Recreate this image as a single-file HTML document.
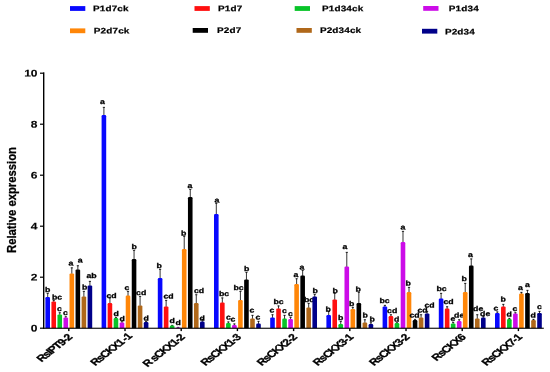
<!DOCTYPE html><html><head><meta charset="utf-8"><title>chart</title><style>html,body{margin:0;padding:0;background:#fff}svg{display:block;filter:blur(0.35px)}</style></head><body><svg width="550" height="372" viewBox="0 0 550 372" font-family="Liberation Sans, Arial, sans-serif" font-weight="bold">
<rect width="550" height="372" fill="#fff"/>
<rect x="70" y="6.1" width="15.3" height="4.8" fill="#0808ff"/>
<text transform="translate(93.00,11.30) scale(1.23,1) rotate(0.05)" font-size="8.1" letter-spacing="0.12" stroke="#000" stroke-width="0.2">P1d7ck</text>
<rect x="70" y="28.4" width="15.3" height="4.8" fill="#ff8608"/>
<text transform="translate(93.80,33.50) scale(1.23,1) rotate(0.05)" font-size="8.1" letter-spacing="0.12" stroke="#000" stroke-width="0.2">P2d7ck</text>
<rect x="194.5" y="6.1" width="15.3" height="4.8" fill="#ff1010"/>
<text transform="translate(218.00,11.30) scale(1.23,1) rotate(0.05)" font-size="8.1" letter-spacing="0.12" stroke="#000" stroke-width="0.2">P1d7</text>
<rect x="192.7" y="28" width="15.3" height="4.8" fill="#000000"/>
<text transform="translate(217.00,33.00) scale(1.23,1) rotate(0.05)" font-size="8.1" letter-spacing="0.12" stroke="#000" stroke-width="0.2">P2d7</text>
<rect x="294.7" y="6.1" width="15.3" height="4.8" fill="#08c428"/>
<text transform="translate(322.00,11.30) scale(1.23,1) rotate(0.05)" font-size="8.1" letter-spacing="0.12" stroke="#000" stroke-width="0.2">P1d34ck</text>
<rect x="296.5" y="28" width="15.3" height="4.8" fill="#b0681a"/>
<text transform="translate(319.90,33.00) scale(1.23,1) rotate(0.05)" font-size="8.1" letter-spacing="0.12" stroke="#000" stroke-width="0.2">P2d34ck</text>
<rect x="423.2" y="6" width="15.3" height="4.8" fill="#cc0ce8"/>
<text transform="translate(448.80,11.30) scale(1.23,1) rotate(0.05)" font-size="8.1" letter-spacing="0.12" stroke="#000" stroke-width="0.2">P1d34</text>
<rect x="422" y="28.8" width="15.3" height="4.8" fill="#00008a"/>
<text transform="translate(444.90,34.50) scale(1.23,1) rotate(0.05)" font-size="8.1" letter-spacing="0.12" stroke="#000" stroke-width="0.2">P2d34</text>
<path d="M47.70 297.5 V293 M46.60 293.35 H48.80" stroke="#111" stroke-width="0.85" fill="none"/>
<path d="M45.40 328.2 V298.20 Q45.40 297 46.60 297 H48.80 Q50.00 297 50.00 298.20 V328.2 Z" fill="#0808ff"/>
<text transform="translate(44.90,292) scale(1.25,1) rotate(0.05)" font-size="7" stroke="#000" stroke-width="0.28">b</text>
<path d="M53.73 301.9 V300 M52.63 300.35 H54.83" stroke="#111" stroke-width="0.85" fill="none"/>
<path d="M51.43 328.2 V302.60 Q51.43 301.4 52.63 301.4 H54.83 Q56.03 301.4 56.03 302.60 V328.2 Z" fill="#ff1010"/>
<text transform="translate(51.90,299.4) scale(1.25,1) rotate(0.05)" font-size="7" stroke="#000" stroke-width="0.28">bc</text>
<path d="M59.76 314.9 V312.4 M58.66 312.75 H60.86" stroke="#111" stroke-width="0.85" fill="none"/>
<path d="M57.46 328.2 V315.60 Q57.46 314.4 58.66 314.4 H60.86 Q62.06 314.4 62.06 315.60 V328.2 Z" fill="#08c428"/>
<text transform="translate(57.10,311) scale(1.25,1) rotate(0.05)" font-size="7" stroke="#000" stroke-width="0.28">c</text>
<path d="M65.79 317.9 V316.4 M64.69 316.75 H66.89" stroke="#111" stroke-width="0.85" fill="none"/>
<path d="M63.49 328.2 V318.60 Q63.49 317.4 64.69 317.4 H66.89 Q68.09 317.4 68.09 318.60 V328.2 Z" fill="#cc0ce8"/>
<text transform="translate(63.10,315) scale(1.25,1) rotate(0.05)" font-size="7" stroke="#000" stroke-width="0.28">c</text>
<path d="M71.82 273.9 V267.5 M70.72 267.85 H72.92" stroke="#111" stroke-width="0.85" fill="none"/>
<path d="M69.52 328.2 V274.60 Q69.52 273.4 70.72 273.4 H72.92 Q74.12 273.4 74.12 274.60 V328.2 Z" fill="#ff8608"/>
<text transform="translate(68.50,265.4) scale(1.25,1) rotate(0.05)" font-size="7" stroke="#000" stroke-width="0.28">a</text>
<path d="M77.85 269.9 V265.4 M76.75 265.75 H78.95" stroke="#111" stroke-width="0.85" fill="none"/>
<path d="M75.55 328.2 V270.60 Q75.55 269.4 76.75 269.4 H78.95 Q80.15 269.4 80.15 270.60 V328.2 Z" fill="#000000"/>
<text transform="translate(77.70,262.6) scale(1.25,1) rotate(0.05)" font-size="7" stroke="#000" stroke-width="0.28">a</text>
<path d="M83.88 296.9 V291 M82.78 291.35 H84.98" stroke="#111" stroke-width="0.85" fill="none"/>
<path d="M81.58 328.2 V297.60 Q81.58 296.4 82.78 296.4 H84.98 Q86.18 296.4 86.18 297.60 V328.2 Z" fill="#b0681a"/>
<text transform="translate(82.10,289.4) scale(1.25,1) rotate(0.05)" font-size="7" stroke="#000" stroke-width="0.28">b</text>
<path d="M89.91 285.9 V281 M88.81 281.35 H91.01" stroke="#111" stroke-width="0.85" fill="none"/>
<path d="M87.61 328.2 V286.60 Q87.61 285.4 88.81 285.4 H91.01 Q92.21 285.4 92.21 286.60 V328.2 Z" fill="#00008a"/>
<text transform="translate(86.50,278) scale(1.25,1) rotate(0.05)" font-size="7" stroke="#000" stroke-width="0.28">ab</text>
<path d="M103.90 115.5 V107 M102.80 107.35 H105.00" stroke="#111" stroke-width="0.85" fill="none"/>
<path d="M101.60 328.2 V116.20 Q101.60 115 102.80 115 H105.00 Q106.20 115 106.20 116.20 V328.2 Z" fill="#0808ff"/>
<text transform="translate(100.10,104) scale(1.25,1) rotate(0.05)" font-size="7" stroke="#000" stroke-width="0.28">a</text>
<path d="M109.93 303.5 V297.6 M108.83 297.95000000000005 H111.03" stroke="#111" stroke-width="0.85" fill="none"/>
<path d="M107.63 328.2 V304.20 Q107.63 303 108.83 303 H111.03 Q112.23 303 112.23 304.20 V328.2 Z" fill="#ff1010"/>
<text transform="translate(106.50,298) scale(1.25,1) rotate(0.05)" font-size="7" stroke="#000" stroke-width="0.28">cd</text>
<path d="M115.96 318.5 V317 M114.86 317.35 H117.06" stroke="#111" stroke-width="0.85" fill="none"/>
<path d="M113.66 328.2 V319.20 Q113.66 318 114.86 318 H117.06 Q118.26 318 118.26 319.20 V328.2 Z" fill="#08c428"/>
<text transform="translate(113.50,316) scale(1.25,1) rotate(0.05)" font-size="7" stroke="#000" stroke-width="0.28">d</text>
<path d="M121.99 322.9 V321.4 M120.89 321.75 H123.09" stroke="#111" stroke-width="0.85" fill="none"/>
<path d="M119.69 328.2 V323.60 Q119.69 322.4 120.89 322.4 H123.09 Q124.29 322.4 124.29 323.60 V328.2 Z" fill="#cc0ce8"/>
<text transform="translate(119.50,321) scale(1.25,1) rotate(0.05)" font-size="7" stroke="#000" stroke-width="0.28">d</text>
<path d="M128.02 296.1 V291 M126.92 291.35 H129.12" stroke="#111" stroke-width="0.85" fill="none"/>
<path d="M125.72 328.2 V296.80 Q125.72 295.6 126.92 295.6 H129.12 Q130.32 295.6 130.32 296.80 V328.2 Z" fill="#ff8608"/>
<text transform="translate(124.50,290) scale(1.25,1) rotate(0.05)" font-size="7" stroke="#000" stroke-width="0.28">c</text>
<path d="M134.05 259.5 V250 M132.95 250.35 H135.15" stroke="#111" stroke-width="0.85" fill="none"/>
<path d="M131.75 328.2 V260.20 Q131.75 259 132.95 259 H135.15 Q136.35 259 136.35 260.20 V328.2 Z" fill="#000000"/>
<text transform="translate(131.50,249) scale(1.25,1) rotate(0.05)" font-size="7" stroke="#000" stroke-width="0.28">b</text>
<path d="M140.08 305.9 V296 M138.98 296.35 H141.18" stroke="#111" stroke-width="0.85" fill="none"/>
<path d="M137.78 328.2 V306.60 Q137.78 305.4 138.98 305.4 H141.18 Q142.38 305.4 142.38 306.60 V328.2 Z" fill="#b0681a"/>
<text transform="translate(136.10,295) scale(1.25,1) rotate(0.05)" font-size="7" stroke="#000" stroke-width="0.28">cd</text>
<path d="M146.11 322.5 V321 M145.01 321.35 H147.21" stroke="#111" stroke-width="0.85" fill="none"/>
<path d="M143.81 328.2 V323.20 Q143.81 322 145.01 322 H147.21 Q148.41 322 148.41 323.20 V328.2 Z" fill="#00008a"/>
<text transform="translate(143.50,320.6) scale(1.25,1) rotate(0.05)" font-size="7" stroke="#000" stroke-width="0.28">d</text>
<path d="M160.10 278.5 V269 M159.00 269.35 H161.20" stroke="#111" stroke-width="0.85" fill="none"/>
<path d="M157.80 328.2 V279.20 Q157.80 278 159.00 278 H161.20 Q162.40 278 162.40 279.20 V328.2 Z" fill="#0808ff"/>
<text transform="translate(156.50,268) scale(1.25,1) rotate(0.05)" font-size="7" stroke="#000" stroke-width="0.28">b</text>
<path d="M166.13 306.9 V300 M165.03 300.35 H167.23" stroke="#111" stroke-width="0.85" fill="none"/>
<path d="M163.83 328.2 V307.60 Q163.83 306.4 165.03 306.4 H167.23 Q168.43 306.4 168.43 307.60 V328.2 Z" fill="#ff1010"/>
<text transform="translate(163.50,298.6) scale(1.25,1) rotate(0.05)" font-size="7" stroke="#000" stroke-width="0.28">cd</text>
<path d="M172.16 326.1 V325 M171.06 325.35 H173.26" stroke="#111" stroke-width="0.85" fill="none"/>
<path d="M169.86 328.2 V326.80 Q169.86 325.6 171.06 325.6 H173.26 Q174.46 325.6 174.46 326.80 V328.2 Z" fill="#08c428"/>
<text transform="translate(169.50,323) scale(1.25,1) rotate(0.05)" font-size="7" stroke="#000" stroke-width="0.28">d</text>
<path d="M178.19 327.9 V327 M177.09 327.35 H179.29" stroke="#111" stroke-width="0.85" fill="none"/>
<path d="M175.89 328.2 V327.80 Q175.89 327.4 176.29 327.4 H180.09 Q180.49 327.4 180.49 327.80 V328.2 Z" fill="#cc0ce8"/>
<text transform="translate(175.50,325) scale(1.25,1) rotate(0.05)" font-size="7" stroke="#000" stroke-width="0.28">d</text>
<path d="M184.22 249.5 V236 M183.12 236.35 H185.32" stroke="#111" stroke-width="0.85" fill="none"/>
<path d="M181.92 328.2 V250.20 Q181.92 249 183.12 249 H185.32 Q186.52 249 186.52 250.20 V328.2 Z" fill="#ff8608"/>
<text transform="translate(180.90,235.6) scale(1.25,1) rotate(0.05)" font-size="7" stroke="#000" stroke-width="0.28">b</text>
<path d="M190.25 197.5 V189 M189.15 189.35 H191.35" stroke="#111" stroke-width="0.85" fill="none"/>
<path d="M187.95 328.2 V198.20 Q187.95 197 189.15 197 H191.35 Q192.55 197 192.55 198.20 V328.2 Z" fill="#000000"/>
<text transform="translate(187.50,188) scale(1.25,1) rotate(0.05)" font-size="7" stroke="#000" stroke-width="0.28">a</text>
<path d="M196.28 303.5 V294.4 M195.18 294.75 H197.38" stroke="#111" stroke-width="0.85" fill="none"/>
<path d="M193.98 328.2 V304.20 Q193.98 303 195.18 303 H197.38 Q198.58 303 198.58 304.20 V328.2 Z" fill="#b0681a"/>
<text transform="translate(193.90,293) scale(1.25,1) rotate(0.05)" font-size="7" stroke="#000" stroke-width="0.28">cd</text>
<path d="M202.31 322.1 V319 M201.21 319.35 H203.41" stroke="#111" stroke-width="0.85" fill="none"/>
<path d="M200.01 328.2 V322.80 Q200.01 321.6 201.21 321.6 H203.41 Q204.61 321.6 204.61 322.80 V328.2 Z" fill="#00008a"/>
<text transform="translate(199.50,320.4) scale(1.25,1) rotate(0.05)" font-size="7" stroke="#000" stroke-width="0.28">d</text>
<path d="M216.30 214.5 V203 M215.20 203.35 H217.40" stroke="#111" stroke-width="0.85" fill="none"/>
<path d="M214.00 328.2 V215.20 Q214.00 214 215.20 214 H217.40 Q218.60 214 218.60 215.20 V328.2 Z" fill="#0808ff"/>
<text transform="translate(214.50,202.6) scale(1.25,1) rotate(0.05)" font-size="7" stroke="#000" stroke-width="0.28">a</text>
<path d="M222.33 302.9 V297.6 M221.23 297.95000000000005 H223.43" stroke="#111" stroke-width="0.85" fill="none"/>
<path d="M220.03 328.2 V303.60 Q220.03 302.4 221.23 302.4 H223.43 Q224.63 302.4 224.63 303.60 V328.2 Z" fill="#ff1010"/>
<text transform="translate(218.90,296) scale(1.25,1) rotate(0.05)" font-size="7" stroke="#000" stroke-width="0.28">bc</text>
<path d="M228.36 323.5 V321.6 M227.26 321.95000000000005 H229.46" stroke="#111" stroke-width="0.85" fill="none"/>
<path d="M226.06 328.2 V324.20 Q226.06 323 227.26 323 H229.46 Q230.66 323 230.66 324.20 V328.2 Z" fill="#08c428"/>
<text transform="translate(225.90,319.4) scale(1.25,1) rotate(0.05)" font-size="7" stroke="#000" stroke-width="0.28">c</text>
<path d="M234.39 325.5 V323.6 M233.29 323.95000000000005 H235.49" stroke="#111" stroke-width="0.85" fill="none"/>
<path d="M232.09 328.2 V326.20 Q232.09 325 233.29 325 H235.49 Q236.69 325 236.69 326.20 V328.2 Z" fill="#cc0ce8"/>
<text transform="translate(230.50,321.6) scale(1.25,1) rotate(0.05)" font-size="7" stroke="#000" stroke-width="0.28">c</text>
<path d="M240.42 300.5 V291 M239.32 291.35 H241.52" stroke="#111" stroke-width="0.85" fill="none"/>
<path d="M238.12 328.2 V301.20 Q238.12 300 239.32 300 H241.52 Q242.72 300 242.72 301.20 V328.2 Z" fill="#ff8608"/>
<text transform="translate(233.50,290) scale(1.25,1) rotate(0.05)" font-size="7" stroke="#000" stroke-width="0.28">bc</text>
<path d="M246.45 279.9 V272 M245.35 272.35 H247.55" stroke="#111" stroke-width="0.85" fill="none"/>
<path d="M244.15 328.2 V280.60 Q244.15 279.4 245.35 279.4 H247.55 Q248.75 279.4 248.75 280.60 V328.2 Z" fill="#000000"/>
<text transform="translate(243.90,271) scale(1.25,1) rotate(0.05)" font-size="7" stroke="#000" stroke-width="0.28">b</text>
<path d="M252.48 318.9 V315 M251.38 315.35 H253.58" stroke="#111" stroke-width="0.85" fill="none"/>
<path d="M250.18 328.2 V319.60 Q250.18 318.4 251.38 318.4 H253.58 Q254.78 318.4 254.78 319.60 V328.2 Z" fill="#b0681a"/>
<text transform="translate(249.50,312.4) scale(1.25,1) rotate(0.05)" font-size="7" stroke="#000" stroke-width="0.28">c</text>
<path d="M258.51 324.1 V321 M257.41 321.35 H259.61" stroke="#111" stroke-width="0.85" fill="none"/>
<path d="M256.21 328.2 V324.80 Q256.21 323.6 257.41 323.6 H259.61 Q260.81 323.6 260.81 324.80 V328.2 Z" fill="#00008a"/>
<text transform="translate(255.50,319.4) scale(1.25,1) rotate(0.05)" font-size="7" stroke="#000" stroke-width="0.28">c</text>
<path d="M272.50 317.9 V314.4 M271.40 314.75 H273.60" stroke="#111" stroke-width="0.85" fill="none"/>
<path d="M270.20 328.2 V318.60 Q270.20 317.4 271.40 317.4 H273.60 Q274.80 317.4 274.80 318.60 V328.2 Z" fill="#0808ff"/>
<text transform="translate(269.50,312.6) scale(1.25,1) rotate(0.05)" font-size="7" stroke="#000" stroke-width="0.28">c</text>
<path d="M278.53 308.9 V305.6 M277.43 305.95000000000005 H279.63" stroke="#111" stroke-width="0.85" fill="none"/>
<path d="M276.23 328.2 V309.60 Q276.23 308.4 277.43 308.4 H279.63 Q280.83 308.4 280.83 309.60 V328.2 Z" fill="#ff1010"/>
<text transform="translate(273.50,304) scale(1.25,1) rotate(0.05)" font-size="7" stroke="#000" stroke-width="0.28">bc</text>
<path d="M284.56 319.1 V315 M283.46 315.35 H285.66" stroke="#111" stroke-width="0.85" fill="none"/>
<path d="M282.26 328.2 V319.80 Q282.26 318.6 283.46 318.6 H285.66 Q286.86 318.6 286.86 319.80 V328.2 Z" fill="#08c428"/>
<text transform="translate(281.90,313) scale(1.25,1) rotate(0.05)" font-size="7" stroke="#000" stroke-width="0.28">c</text>
<path d="M290.59 319.5 V317 M289.49 317.35 H291.69" stroke="#111" stroke-width="0.85" fill="none"/>
<path d="M288.29 328.2 V320.20 Q288.29 319 289.49 319 H291.69 Q292.89 319 292.89 320.20 V328.2 Z" fill="#cc0ce8"/>
<text transform="translate(288.10,316) scale(1.25,1) rotate(0.05)" font-size="7" stroke="#000" stroke-width="0.28">c</text>
<path d="M296.62 284.5 V278.4 M295.52 278.75 H297.72" stroke="#111" stroke-width="0.85" fill="none"/>
<path d="M294.32 328.2 V285.20 Q294.32 284 295.52 284 H297.72 Q298.92 284 298.92 285.20 V328.2 Z" fill="#ff8608"/>
<text transform="translate(293.50,277) scale(1.25,1) rotate(0.05)" font-size="7" stroke="#000" stroke-width="0.28">a</text>
<path d="M302.65 276.1 V270 M301.55 270.35 H303.75" stroke="#111" stroke-width="0.85" fill="none"/>
<path d="M300.35 328.2 V276.80 Q300.35 275.6 301.55 275.6 H303.75 Q304.95 275.6 304.95 276.80 V328.2 Z" fill="#000000"/>
<text transform="translate(299.50,269.4) scale(1.25,1) rotate(0.05)" font-size="7" stroke="#000" stroke-width="0.28">a</text>
<path d="M308.68 307.9 V303 M307.58 303.35 H309.78" stroke="#111" stroke-width="0.85" fill="none"/>
<path d="M306.38 328.2 V308.60 Q306.38 307.4 307.58 307.4 H309.78 Q310.98 307.4 310.98 308.60 V328.2 Z" fill="#b0681a"/>
<text transform="translate(303.90,302) scale(1.25,1) rotate(0.05)" font-size="7" stroke="#000" stroke-width="0.28">bc</text>
<path d="M314.71 296.9 V294 M313.61 294.35 H315.81" stroke="#111" stroke-width="0.85" fill="none"/>
<path d="M312.41 328.2 V297.60 Q312.41 296.4 313.61 296.4 H315.81 Q317.01 296.4 317.01 297.60 V328.2 Z" fill="#00008a"/>
<text transform="translate(312.50,293) scale(1.25,1) rotate(0.05)" font-size="7" stroke="#000" stroke-width="0.28">b</text>
<path d="M328.70 315.5 V311 M327.60 311.35 H329.80" stroke="#111" stroke-width="0.85" fill="none"/>
<path d="M326.40 328.2 V316.20 Q326.40 315 327.60 315 H329.80 Q331.00 315 331.00 316.20 V328.2 Z" fill="#0808ff"/>
<text transform="translate(325.50,311.4) scale(1.25,1) rotate(0.05)" font-size="7" stroke="#000" stroke-width="0.28">b</text>
<path d="M334.73 299.9 V293 M333.63 293.35 H335.83" stroke="#111" stroke-width="0.85" fill="none"/>
<path d="M332.43 328.2 V300.60 Q332.43 299.4 333.63 299.4 H335.83 Q337.03 299.4 337.03 300.60 V328.2 Z" fill="#ff1010"/>
<text transform="translate(332.50,293) scale(1.25,1) rotate(0.05)" font-size="7" stroke="#000" stroke-width="0.28">b</text>
<path d="M340.76 324.5 V321 M339.66 321.35 H341.86" stroke="#111" stroke-width="0.85" fill="none"/>
<path d="M338.46 328.2 V325.20 Q338.46 324 339.66 324 H341.86 Q343.06 324 343.06 325.20 V328.2 Z" fill="#08c428"/>
<text transform="translate(337.90,320) scale(1.25,1) rotate(0.05)" font-size="7" stroke="#000" stroke-width="0.28">b</text>
<path d="M346.79 267.1 V252 M345.69 252.35 H347.89" stroke="#111" stroke-width="0.85" fill="none"/>
<path d="M344.49 328.2 V267.80 Q344.49 266.6 345.69 266.6 H347.89 Q349.09 266.6 349.09 267.80 V328.2 Z" fill="#cc0ce8"/>
<text transform="translate(342.50,249) scale(1.25,1) rotate(0.05)" font-size="7" stroke="#000" stroke-width="0.28">a</text>
<path d="M352.82 309.5 V307 M351.72 307.35 H353.92" stroke="#111" stroke-width="0.85" fill="none"/>
<path d="M350.52 328.2 V310.20 Q350.52 309 351.72 309 H353.92 Q355.12 309 355.12 310.20 V328.2 Z" fill="#ff8608"/>
<text transform="translate(349.10,306) scale(1.25,1) rotate(0.05)" font-size="7" stroke="#000" stroke-width="0.28">b</text>
<path d="M358.85 303.5 V292 M357.75 292.35 H359.95" stroke="#111" stroke-width="0.85" fill="none"/>
<path d="M356.55 328.2 V304.20 Q356.55 303 357.75 303 H359.95 Q361.15 303 361.15 304.20 V328.2 Z" fill="#000000"/>
<text transform="translate(355.50,291.4) scale(1.25,1) rotate(0.05)" font-size="7" stroke="#000" stroke-width="0.28">b</text>
<path d="M364.88 322.9 V319.4 M363.78 319.75 H365.98" stroke="#111" stroke-width="0.85" fill="none"/>
<path d="M362.58 328.2 V323.60 Q362.58 322.4 363.78 322.4 H365.98 Q367.18 322.4 367.18 323.60 V328.2 Z" fill="#b0681a"/>
<text transform="translate(362.50,317.4) scale(1.25,1) rotate(0.05)" font-size="7" stroke="#000" stroke-width="0.28">b</text>
<path d="M370.91 324.5 V322.4 M369.81 322.75 H372.01" stroke="#111" stroke-width="0.85" fill="none"/>
<path d="M368.61 328.2 V325.20 Q368.61 324 369.81 324 H372.01 Q373.21 324 373.21 325.20 V328.2 Z" fill="#00008a"/>
<text transform="translate(369.50,321.6) scale(1.25,1) rotate(0.05)" font-size="7" stroke="#000" stroke-width="0.28">b</text>
<path d="M384.90 306.9 V305 M383.80 305.35 H386.00" stroke="#111" stroke-width="0.85" fill="none"/>
<path d="M382.60 328.2 V307.60 Q382.60 306.4 383.80 306.4 H386.00 Q387.20 306.4 387.20 307.60 V328.2 Z" fill="#0808ff"/>
<text transform="translate(379.50,303) scale(1.25,1) rotate(0.05)" font-size="7" stroke="#000" stroke-width="0.28">bc</text>
<path d="M390.93 316.5 V314.4 M389.83 314.75 H392.03" stroke="#111" stroke-width="0.85" fill="none"/>
<path d="M388.63 328.2 V317.20 Q388.63 316 389.83 316 H392.03 Q393.23 316 393.23 317.20 V328.2 Z" fill="#ff1010"/>
<text transform="translate(387.10,313) scale(1.25,1) rotate(0.05)" font-size="7" stroke="#000" stroke-width="0.28">cd</text>
<path d="M396.96 323.5 V322.4 M395.86 322.75 H398.06" stroke="#111" stroke-width="0.85" fill="none"/>
<path d="M394.66 328.2 V324.20 Q394.66 323 395.86 323 H398.06 Q399.26 323 399.26 324.20 V328.2 Z" fill="#08c428"/>
<text transform="translate(394.10,321.4) scale(1.25,1) rotate(0.05)" font-size="7" stroke="#000" stroke-width="0.28">d</text>
<path d="M402.99 242.5 V231 M401.89 231.35 H404.09" stroke="#111" stroke-width="0.85" fill="none"/>
<path d="M400.69 328.2 V243.20 Q400.69 242 401.89 242 H404.09 Q405.29 242 405.29 243.20 V328.2 Z" fill="#cc0ce8"/>
<text transform="translate(400.50,229.6) scale(1.25,1) rotate(0.05)" font-size="7" stroke="#000" stroke-width="0.28">a</text>
<path d="M409.02 292.5 V287 M407.92 287.35 H410.12" stroke="#111" stroke-width="0.85" fill="none"/>
<path d="M406.72 328.2 V293.20 Q406.72 292 407.92 292 H410.12 Q411.32 292 411.32 293.20 V328.2 Z" fill="#ff8608"/>
<text transform="translate(405.50,285.4) scale(1.25,1) rotate(0.05)" font-size="7" stroke="#000" stroke-width="0.28">b</text>
<path d="M415.05 320.5 V319 M413.95 319.35 H416.15" stroke="#111" stroke-width="0.85" fill="none"/>
<path d="M412.75 328.2 V321.20 Q412.75 320 413.95 320 H416.15 Q417.35 320 417.35 321.20 V328.2 Z" fill="#000000"/>
<text transform="translate(409.50,317.4) scale(1.25,1) rotate(0.05)" font-size="7" stroke="#000" stroke-width="0.28">cd</text>
<path d="M421.08 317.9 V314.4 M419.98 314.75 H422.18" stroke="#111" stroke-width="0.85" fill="none"/>
<path d="M418.78 328.2 V318.60 Q418.78 317.4 419.98 317.4 H422.18 Q423.38 317.4 423.38 318.60 V328.2 Z" fill="#b0681a"/>
<text transform="translate(417.50,312.6) scale(1.25,1) rotate(0.05)" font-size="7" stroke="#000" stroke-width="0.28">cd</text>
<path d="M427.11 313.9 V311 M426.01 311.35 H428.21" stroke="#111" stroke-width="0.85" fill="none"/>
<path d="M424.81 328.2 V314.60 Q424.81 313.4 426.01 313.4 H428.21 Q429.41 313.4 429.41 314.60 V328.2 Z" fill="#00008a"/>
<text transform="translate(424.50,307.4) scale(1.25,1) rotate(0.05)" font-size="7" stroke="#000" stroke-width="0.28">cd</text>
<path d="M441.10 299.1 V293 M440.00 293.35 H442.20" stroke="#111" stroke-width="0.85" fill="none"/>
<path d="M438.80 328.2 V299.80 Q438.80 298.6 440.00 298.6 H442.20 Q443.40 298.6 443.40 299.80 V328.2 Z" fill="#0808ff"/>
<text transform="translate(436.50,291) scale(1.25,1) rotate(0.05)" font-size="7" stroke="#000" stroke-width="0.28">bc</text>
<path d="M447.13 309.1 V306.4 M446.03 306.75 H448.23" stroke="#111" stroke-width="0.85" fill="none"/>
<path d="M444.83 328.2 V309.80 Q444.83 308.6 446.03 308.6 H448.23 Q449.43 308.6 449.43 309.80 V328.2 Z" fill="#ff1010"/>
<text transform="translate(443.50,304) scale(1.25,1) rotate(0.05)" font-size="7" stroke="#000" stroke-width="0.28">cd</text>
<path d="M453.16 323.9 V322 M452.06 322.35 H454.26" stroke="#111" stroke-width="0.85" fill="none"/>
<path d="M450.86 328.2 V324.60 Q450.86 323.4 452.06 323.4 H454.26 Q455.46 323.4 455.46 324.60 V328.2 Z" fill="#08c428"/>
<text transform="translate(450.50,321) scale(1.25,1) rotate(0.05)" font-size="7" stroke="#000" stroke-width="0.28">e</text>
<path d="M459.19 321.5 V319.4 M458.09 319.75 H460.29" stroke="#111" stroke-width="0.85" fill="none"/>
<path d="M456.89 328.2 V322.20 Q456.89 321 458.09 321 H460.29 Q461.49 321 461.49 322.20 V328.2 Z" fill="#cc0ce8"/>
<text transform="translate(454.10,317.4) scale(1.25,1) rotate(0.05)" font-size="7" stroke="#000" stroke-width="0.28">de</text>
<path d="M465.22 292.5 V283 M464.12 283.35 H466.32" stroke="#111" stroke-width="0.85" fill="none"/>
<path d="M462.92 328.2 V293.20 Q462.92 292 464.12 292 H466.32 Q467.52 292 467.52 293.20 V328.2 Z" fill="#ff8608"/>
<text transform="translate(461.50,281) scale(1.25,1) rotate(0.05)" font-size="7" stroke="#000" stroke-width="0.28">b</text>
<path d="M471.25 266.0 V258.6 M470.15 258.95000000000005 H472.35" stroke="#111" stroke-width="0.85" fill="none"/>
<path d="M468.95 328.2 V266.70 Q468.95 265.5 470.15 265.5 H472.35 Q473.55 265.5 473.55 266.70 V328.2 Z" fill="#000000"/>
<text transform="translate(468.10,257) scale(1.25,1) rotate(0.05)" font-size="7" stroke="#000" stroke-width="0.28">a</text>
<path d="M477.28 318.9 V314.4 M476.18 314.75 H478.38" stroke="#111" stroke-width="0.85" fill="none"/>
<path d="M474.98 328.2 V319.60 Q474.98 318.4 476.18 318.4 H478.38 Q479.58 318.4 479.58 319.60 V328.2 Z" fill="#b0681a"/>
<text transform="translate(473.10,311) scale(1.25,1) rotate(0.05)" font-size="7" stroke="#000" stroke-width="0.28">de</text>
<path d="M483.31 318.1 V316 M482.21 316.35 H484.41" stroke="#111" stroke-width="0.85" fill="none"/>
<path d="M481.01 328.2 V318.80 Q481.01 317.6 482.21 317.6 H484.41 Q485.61 317.6 485.61 318.80 V328.2 Z" fill="#00008a"/>
<text transform="translate(480.10,316) scale(1.25,1) rotate(0.05)" font-size="7" stroke="#000" stroke-width="0.28">de</text>
<path d="M497.30 313.5 V311.6 M496.20 311.95000000000005 H498.40" stroke="#111" stroke-width="0.85" fill="none"/>
<path d="M495.00 328.2 V314.20 Q495.00 313 496.20 313 H498.40 Q499.60 313 499.60 314.20 V328.2 Z" fill="#0808ff"/>
<text transform="translate(493.50,310.6) scale(1.25,1) rotate(0.05)" font-size="7" stroke="#000" stroke-width="0.28">c</text>
<path d="M503.33 306.9 V304 M502.23 304.35 H504.43" stroke="#111" stroke-width="0.85" fill="none"/>
<path d="M501.03 328.2 V307.60 Q501.03 306.4 502.23 306.4 H504.43 Q505.63 306.4 505.63 307.60 V328.2 Z" fill="#ff1010"/>
<text transform="translate(500.50,301.6) scale(1.25,1) rotate(0.05)" font-size="7" stroke="#000" stroke-width="0.28">b</text>
<path d="M509.36 319.5 V318 M508.26 318.35 H510.46" stroke="#111" stroke-width="0.85" fill="none"/>
<path d="M507.06 328.2 V320.20 Q507.06 319 508.26 319 H510.46 Q511.66 319 511.66 320.20 V328.2 Z" fill="#08c428"/>
<text transform="translate(506.50,316.4) scale(1.25,1) rotate(0.05)" font-size="7" stroke="#000" stroke-width="0.28">d</text>
<path d="M515.39 313.9 V312.4 M514.29 312.75 H516.49" stroke="#111" stroke-width="0.85" fill="none"/>
<path d="M513.09 328.2 V314.60 Q513.09 313.4 514.29 313.4 H516.49 Q517.69 313.4 517.69 314.60 V328.2 Z" fill="#cc0ce8"/>
<text transform="translate(512.50,311) scale(1.25,1) rotate(0.05)" font-size="7" stroke="#000" stroke-width="0.28">c</text>
<path d="M521.42 294.1 V292 M520.32 292.35 H522.52" stroke="#111" stroke-width="0.85" fill="none"/>
<path d="M519.12 328.2 V294.80 Q519.12 293.6 520.32 293.6 H522.52 Q523.72 293.6 523.72 294.80 V328.2 Z" fill="#ff8608"/>
<text transform="translate(517.90,290) scale(1.25,1) rotate(0.05)" font-size="7" stroke="#000" stroke-width="0.28">a</text>
<path d="M527.45 293.5 V290 M526.35 290.35 H528.55" stroke="#111" stroke-width="0.85" fill="none"/>
<path d="M525.15 328.2 V294.20 Q525.15 293 526.35 293 H528.55 Q529.75 293 529.75 294.20 V328.2 Z" fill="#000000"/>
<text transform="translate(524.90,287) scale(1.25,1) rotate(0.05)" font-size="7" stroke="#000" stroke-width="0.28">a</text>
<path d="M533.48 320.5 V319 M532.38 319.35 H534.58" stroke="#111" stroke-width="0.85" fill="none"/>
<path d="M531.18 328.2 V321.20 Q531.18 320 532.38 320 H534.58 Q535.78 320 535.78 321.20 V328.2 Z" fill="#b0681a"/>
<text transform="translate(530.50,317.4) scale(1.25,1) rotate(0.05)" font-size="7" stroke="#000" stroke-width="0.28">d</text>
<path d="M539.51 313.5 V311 M538.41 311.35 H540.61" stroke="#111" stroke-width="0.85" fill="none"/>
<path d="M537.21 328.2 V314.20 Q537.21 313 538.41 313 H540.61 Q541.81 313 541.81 314.20 V328.2 Z" fill="#00008a"/>
<text transform="translate(536.90,309) scale(1.25,1) rotate(0.05)" font-size="7" stroke="#000" stroke-width="0.28">c</text>
<rect x="43" y="72.3" width="1.4" height="256.50" fill="#000"/>
<rect x="43" y="327.7" width="500.8" height="1.1" fill="#000"/>
<rect x="40" y="327.60" width="3.2" height="1.2" fill="#000"/>
<text transform="translate(37.5,331.50) scale(1.25,1) rotate(0.05)" text-anchor="end" font-size="9.6" stroke="#000" stroke-width="0.15">0</text>
<rect x="40" y="276.60" width="3.2" height="1.2" fill="#000"/>
<text transform="translate(37.5,280.50) scale(1.25,1) rotate(0.05)" text-anchor="end" font-size="9.6" stroke="#000" stroke-width="0.15">2</text>
<rect x="40" y="225.60" width="3.2" height="1.2" fill="#000"/>
<text transform="translate(37.5,229.50) scale(1.25,1) rotate(0.05)" text-anchor="end" font-size="9.6" stroke="#000" stroke-width="0.15">4</text>
<rect x="40" y="174.60" width="3.2" height="1.2" fill="#000"/>
<text transform="translate(37.5,178.50) scale(1.25,1) rotate(0.05)" text-anchor="end" font-size="9.6" stroke="#000" stroke-width="0.15">6</text>
<rect x="40" y="123.60" width="3.2" height="1.2" fill="#000"/>
<text transform="translate(37.5,127.50) scale(1.25,1) rotate(0.05)" text-anchor="end" font-size="9.6" stroke="#000" stroke-width="0.15">8</text>
<rect x="40" y="72.60" width="3.2" height="1.2" fill="#000"/>
<text transform="translate(37.5,76.50) scale(1.25,1) rotate(0.05)" text-anchor="end" font-size="9.6" stroke="#000" stroke-width="0.15">10</text>
<rect x="68.11" y="328.2" width="1.4" height="2.9" fill="#000"/>
<text transform="translate(66.31,333.2) scale(1.27,1) rotate(-45)" text-anchor="end" font-size="9.5" letter-spacing="-0.76" stroke="#000" stroke-width="0.3" dominant-baseline="hanging">RsIPT9-2</text>
<rect x="124.30" y="328.2" width="1.4" height="2.9" fill="#000"/>
<text transform="translate(126.00,332.2) scale(1.27,1) rotate(-45)" text-anchor="end" font-size="9.5" letter-spacing="-0.76" stroke="#000" stroke-width="0.3" dominant-baseline="hanging">RsCKX1<tspan dx="1.4">-1</tspan></text>
<rect x="180.51" y="328.2" width="1.4" height="2.9" fill="#000"/>
<text transform="translate(178.71,333.2) scale(1.27,1) rotate(-45)" text-anchor="end" font-size="9.5" letter-spacing="-0.76" stroke="#000" stroke-width="0.3" dominant-baseline="hanging">R sCKX1-2</text>
<rect x="236.71" y="328.2" width="1.4" height="2.9" fill="#000"/>
<text transform="translate(234.91,333.2) scale(1.27,1) rotate(-45)" text-anchor="end" font-size="9.5" letter-spacing="-0.76" stroke="#000" stroke-width="0.3" dominant-baseline="hanging">RsCKX1-3</text>
<rect x="292.91" y="328.2" width="1.4" height="2.9" fill="#000"/>
<text transform="translate(291.11,333.2) scale(1.27,1) rotate(-45)" text-anchor="end" font-size="9.5" letter-spacing="-0.76" stroke="#000" stroke-width="0.3" dominant-baseline="hanging">RsCKX2-2</text>
<rect x="349.10" y="328.2" width="1.4" height="2.9" fill="#000"/>
<text transform="translate(347.30,333.2) scale(1.27,1) rotate(-45)" text-anchor="end" font-size="9.5" letter-spacing="-0.76" stroke="#000" stroke-width="0.3" dominant-baseline="hanging">RsCKX3-1</text>
<rect x="405.31" y="328.2" width="1.4" height="2.9" fill="#000"/>
<text transform="translate(403.50,333.2) scale(1.27,1) rotate(-45)" text-anchor="end" font-size="9.5" letter-spacing="-0.76" stroke="#000" stroke-width="0.3" dominant-baseline="hanging">RsCKX3-2</text>
<rect x="461.51" y="328.2" width="1.4" height="2.9" fill="#000"/>
<text transform="translate(459.71,333.2) scale(1.27,1) rotate(-45)" text-anchor="end" font-size="9.5" letter-spacing="-0.76" stroke="#000" stroke-width="0.3" dominant-baseline="hanging">RsCKX6</text>
<rect x="517.70" y="328.2" width="1.4" height="2.9" fill="#000"/>
<text transform="translate(515.90,333.2) scale(1.27,1) rotate(-45)" text-anchor="end" font-size="9.5" letter-spacing="-0.76" stroke="#000" stroke-width="0.3" dominant-baseline="hanging">RsCKX7-1</text>
<text transform="translate(16.3,200) rotate(-90) scale(1,1.1)" text-anchor="middle" font-size="11.3" stroke="#000" stroke-width="0.25">Relative expression</text>
</svg></body></html>
